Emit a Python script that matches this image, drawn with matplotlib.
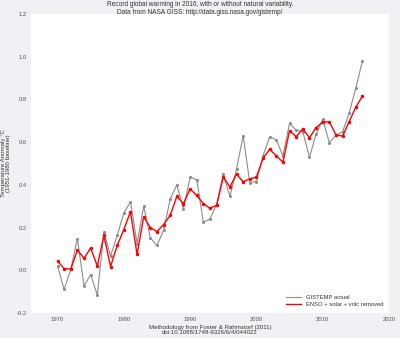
import matplotlib
matplotlib.use("Agg")
import matplotlib.pyplot as plt

plt.rcParams['font.family'] = ['Liberation Sans', 'DejaVu Sans']
plt.rcParams['axes.unicode_minus'] = False

years = list(range(1970, 2017))
gistemp = [0.02, -0.09, 0.005, 0.147, -0.073, -0.02, -0.116, 0.178, 0.067, 0.163,
           0.268, 0.32, 0.125, 0.30, 0.152, 0.116, 0.187, 0.333, 0.40, 0.287,
           0.436, 0.423, 0.225, 0.24, 0.307, 0.45, 0.346, 0.473, 0.63, 0.41,
           0.415, 0.536, 0.625, 0.61, 0.536, 0.687, 0.656, 0.648, 0.529, 0.637,
           0.706, 0.597, 0.633, 0.648, 0.736, 0.854, 0.98]
adjusted = [0.043, 0.008, 0.005, 0.094, 0.056, 0.104, 0.02, 0.163, 0.017, 0.116,
            0.19, 0.274, 0.074, 0.25, 0.20, 0.181, 0.214, 0.257, 0.346, 0.312,
            0.38, 0.35, 0.312, 0.29, 0.304, 0.436, 0.39, 0.45, 0.414, 0.428,
            0.436, 0.524, 0.566, 0.536, 0.506, 0.653, 0.625, 0.662, 0.62, 0.668,
            0.693, 0.695, 0.633, 0.628, 0.696, 0.764, 0.815]
xticks = [1970, 1980, 1990, 2000, 2010, 2020]
yticks = [-0.2, 0.0, 0.2, 0.4, 0.6, 0.8, 1.0, 1.2]

fig = plt.figure(figsize=(4.0, 3.38), dpi=100, facecolor='#f1f1f5')
ax = fig.add_axes([0.0775, 0.074, 0.895, 0.885])
ax.set_facecolor('white')
for s in ax.spines.values():
    s.set_visible(False)

ax.plot(years, gistemp, color='#8c8c8c', lw=0.8, label='GISTEMP actual')
ax.plot(years, gistemp, ls='none', marker='o', ms=1.2, color='#8c8c8c')
ax.plot(years, adjusted, color='#ff0000', lw=1.0, label='ENSO + solar + volc removed')
ax.plot(years, adjusted, ls='none', marker='o', ms=1.5, color='#ff0000')

ax.set_xlim(1966, 2020)
ax.set_ylim(-0.2, 1.2)
ax.set_xticks(xticks)
ax.set_yticks(yticks)
ax.set_yticklabels([f'{v:.1f}' for v in yticks])
ax.tick_params(length=0, labelsize=4.2, labelcolor='#555555', pad=3)

fig.text(0.5, 1 - 1.5 / 338,
         'Record global warming in 2016, with or without natural variability.\n'
         'Data from NASA GISS: http://data.giss.nasa.gov/gistemp/',
         ha='center', va='top', fontsize=4.7, color='#333333', linespacing=1.1)
ax.set_xlabel('Methodology from Foster & Rahmstorf (2011)\ndoi:10.1088/1748-9326/6/4/044022',
              fontsize=4.4, color='#333333', labelpad=2, linespacing=1.1)
ax.set_ylabel('Temperature Anomaly \u00b0C\n(1951-1980 baseline)',
              fontsize=4.4, color='#333333', labelpad=4, linespacing=1.1)

leg = ax.legend(loc='lower right', fontsize=4.2, frameon=False, handlelength=2.5,
                borderaxespad=0.6, labelspacing=0.4)
for t in leg.get_texts():
    t.set_color('#333333')

fig.savefig('out.png', dpi=100, facecolor=fig.get_facecolor())
